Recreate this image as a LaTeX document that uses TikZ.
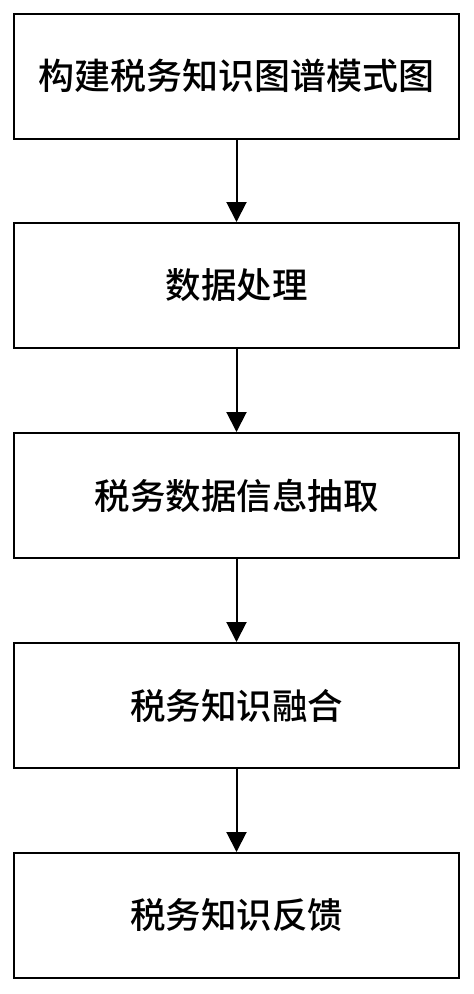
\documentclass[tikz,border=0pt]{standalone}
\usepackage{fontspec}
\newfontfamily\cjk{Noto Sans CJK SC Medium}
\usetikzlibrary{arrows.meta}
\begin{document}
\begin{tikzpicture}[x=1pt,y=-1pt,
  stepbox/.style={draw=black,line width=2pt,minimum width=445pt,minimum height=125pt,inner sep=0pt,font=\cjk\fontsize{35.5}{40}\selectfont},
  flow/.style={line width=2pt,-{Triangle[length=20pt,width=20pt]}}]
\useasboundingbox (0,0) rectangle (474,994);
\fill[white] (0,0) rectangle (474,994);
\node[stepbox,font=\cjk\fontsize{36}{42}\selectfont] (b1) at (236.5,76) {构建税务知识图谱模式图};
\node[stepbox] (b2) at (236.5,285.5) {数据处理};
\node[stepbox] (b3) at (236.5,495.5) {税务数据信息抽取};
\node[stepbox] (b4) at (236.5,705.5) {税务知识融合};
\node[stepbox] (b5) at (236.5,915.5) {税务知识反馈};
\draw[flow] (b1) -- (b2);
\draw[flow] (b2) -- (b3);
\draw[flow] (b3) -- (b4);
\draw[flow] (b4) -- (b5);
\end{tikzpicture}
\end{document}
